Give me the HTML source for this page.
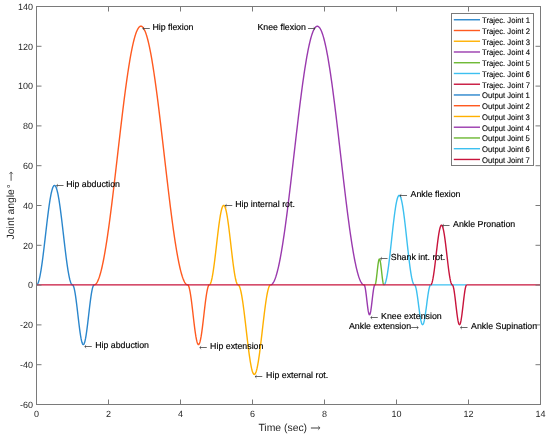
<!DOCTYPE html><html><head><meta charset="utf-8"><style>html,body{margin:0;padding:0;background:#fff;}svg{display:block;}text{text-rendering:geometricPrecision;}</style></head><body><svg width="550" height="437" viewBox="0 0 550 437">
<rect x="0" y="0" width="550" height="437" fill="#fff"/>
<path d="M36.50,284.90 L36.95,284.75 L37.40,284.29 L37.85,283.53 L38.30,282.47 L38.75,281.11 L39.20,279.48 L39.65,277.57 L40.10,275.40 L40.55,272.98 L41.00,270.33 L41.45,267.46 L41.90,264.39 L42.35,261.14 L42.80,257.74 L43.25,254.19 L43.70,250.52 L44.15,246.76 L44.60,242.93 L45.05,239.05 L45.50,235.15 L45.95,231.25 L46.40,227.37 L46.85,223.54 L47.30,219.78 L47.75,216.11 L48.20,212.56 L48.65,209.16 L49.10,205.91 L49.55,202.84 L50.00,199.97 L50.45,197.32 L50.90,194.90 L51.35,192.73 L51.80,190.82 L52.25,189.19 L52.70,187.83 L53.15,186.77 L53.60,186.01 L54.05,185.55 L54.50,185.40 L54.95,185.55 L55.40,186.01 L55.85,186.77 L56.30,187.83 L56.75,189.19 L57.20,190.82 L57.65,192.73 L58.10,194.90 L58.55,197.32 L59.00,199.97 L59.45,202.84 L59.90,205.91 L60.35,209.16 L60.80,212.56 L61.25,216.11 L61.70,219.78 L62.15,223.54 L62.60,227.37 L63.05,231.25 L63.50,235.15 L63.95,239.05 L64.40,242.93 L64.85,246.76 L65.30,250.52 L65.75,254.19 L66.20,257.74 L66.65,261.14 L67.10,264.39 L67.55,267.46 L68.00,270.33 L68.45,272.98 L68.90,275.40 L69.35,277.57 L69.80,279.48 L70.25,281.11 L70.70,282.47 L71.15,283.53 L71.60,284.29 L72.05,284.75 L72.50,284.90 L72.50,284.90 L72.95,285.16 L73.40,285.92 L73.85,287.17 L74.30,288.90 L74.75,291.07 L75.20,293.64 L75.65,296.58 L76.10,299.82 L76.55,303.33 L77.00,307.02 L77.45,310.85 L77.90,314.75 L78.35,318.65 L78.80,322.48 L79.25,326.17 L79.70,329.68 L80.15,332.92 L80.60,335.86 L81.05,338.43 L81.50,340.60 L81.95,342.33 L82.40,343.58 L82.85,344.34 L83.30,344.60 L83.75,344.34 L84.20,343.58 L84.65,342.33 L85.10,340.60 L85.55,338.43 L86.00,335.86 L86.45,332.92 L86.90,329.68 L87.35,326.17 L87.80,322.48 L88.25,318.65 L88.70,314.75 L89.15,310.85 L89.60,307.02 L90.05,303.33 L90.50,299.82 L90.95,296.58 L91.40,293.64 L91.85,291.07 L92.30,288.90 L92.75,287.17 L93.20,285.92 L93.65,285.16 L94.10,284.90" fill="none" stroke="#2a86cc" stroke-width="1.4" stroke-linejoin="round"/>
<path d="M94.10,284.90 L94.55,284.84 L95.00,284.66 L95.45,284.37 L95.90,283.96 L96.35,283.43 L96.80,282.78 L97.25,282.02 L97.70,281.14 L98.15,280.15 L98.60,279.04 L99.05,277.82 L99.50,276.49 L99.95,275.05 L100.40,273.50 L100.85,271.85 L101.30,270.08 L101.75,268.22 L102.20,266.25 L102.65,264.17 L103.10,262.00 L103.55,259.74 L104.00,257.37 L104.45,254.92 L104.90,252.37 L105.35,249.74 L105.80,247.01 L106.25,244.21 L106.70,241.32 L107.15,238.36 L107.60,235.32 L108.05,232.21 L108.50,229.03 L108.95,225.78 L109.40,222.47 L109.85,219.09 L110.30,215.66 L110.75,212.18 L111.20,208.64 L111.65,205.05 L112.10,201.42 L112.55,197.74 L113.00,194.03 L113.45,190.28 L113.90,186.51 L114.35,182.70 L114.80,178.87 L115.25,175.01 L115.70,171.14 L116.15,167.26 L116.60,163.36 L117.05,159.46 L117.50,155.55 L117.95,151.64 L118.40,147.74 L118.85,143.84 L119.30,139.96 L119.75,136.09 L120.20,132.23 L120.65,128.40 L121.10,124.59 L121.55,120.82 L122.00,117.07 L122.45,113.36 L122.90,109.68 L123.35,106.05 L123.80,102.46 L124.25,98.92 L124.70,95.44 L125.15,92.01 L125.60,88.63 L126.05,85.32 L126.50,82.07 L126.95,78.89 L127.40,75.78 L127.85,72.74 L128.30,69.78 L128.75,66.89 L129.20,64.09 L129.65,61.36 L130.10,58.73 L130.55,56.18 L131.00,53.73 L131.45,51.36 L131.90,49.10 L132.35,46.93 L132.80,44.85 L133.25,42.88 L133.70,41.02 L134.15,39.25 L134.60,37.60 L135.05,36.05 L135.50,34.61 L135.95,33.28 L136.40,32.06 L136.85,30.95 L137.30,29.96 L137.75,29.08 L138.20,28.32 L138.65,27.67 L139.10,27.14 L139.55,26.73 L140.00,26.44 L140.45,26.26 L140.90,26.20 L141.35,26.26 L141.80,26.44 L142.25,26.73 L142.70,27.14 L143.15,27.67 L143.60,28.32 L144.05,29.08 L144.50,29.96 L144.95,30.95 L145.40,32.06 L145.85,33.28 L146.30,34.61 L146.75,36.05 L147.20,37.60 L147.65,39.25 L148.10,41.02 L148.55,42.88 L149.00,44.85 L149.45,46.93 L149.90,49.10 L150.35,51.36 L150.80,53.73 L151.25,56.18 L151.70,58.73 L152.15,61.36 L152.60,64.09 L153.05,66.89 L153.50,69.78 L153.95,72.74 L154.40,75.78 L154.85,78.89 L155.30,82.07 L155.75,85.32 L156.20,88.63 L156.65,92.01 L157.10,95.44 L157.55,98.92 L158.00,102.46 L158.45,106.05 L158.90,109.68 L159.35,113.36 L159.80,117.07 L160.25,120.82 L160.70,124.59 L161.15,128.40 L161.60,132.23 L162.05,136.09 L162.50,139.96 L162.95,143.84 L163.40,147.74 L163.85,151.64 L164.30,155.55 L164.75,159.46 L165.20,163.36 L165.65,167.26 L166.10,171.14 L166.55,175.01 L167.00,178.87 L167.45,182.70 L167.90,186.51 L168.35,190.28 L168.80,194.03 L169.25,197.74 L169.70,201.42 L170.15,205.05 L170.60,208.64 L171.05,212.18 L171.50,215.66 L171.95,219.09 L172.40,222.47 L172.85,225.78 L173.30,229.03 L173.75,232.21 L174.20,235.32 L174.65,238.36 L175.10,241.32 L175.55,244.21 L176.00,247.01 L176.45,249.74 L176.90,252.37 L177.35,254.92 L177.80,257.37 L178.25,259.74 L178.70,262.00 L179.15,264.17 L179.60,266.25 L180.05,268.22 L180.50,270.08 L180.95,271.85 L181.40,273.50 L181.85,275.05 L182.30,276.49 L182.75,277.82 L183.20,279.04 L183.65,280.15 L184.10,281.14 L184.55,282.02 L185.00,282.78 L185.45,283.43 L185.90,283.96 L186.35,284.37 L186.80,284.66 L187.25,284.84 L187.70,284.90 L187.70,284.90 L188.16,285.17 L188.62,285.96 L189.08,287.27 L189.54,289.07 L190.00,291.32 L190.46,294.00 L190.92,297.04 L191.38,300.40 L191.84,304.02 L192.30,307.83 L192.76,311.76 L193.21,315.75 L193.67,319.71 L194.13,323.59 L194.59,327.31 L195.05,330.81 L195.51,334.02 L195.97,336.89 L196.43,339.36 L196.89,341.39 L197.35,342.95 L197.81,344.00 L198.27,344.53 L198.73,344.53 L199.19,344.00 L199.65,342.95 L200.11,341.39 L200.57,339.36 L201.03,336.89 L201.49,334.02 L201.95,330.81 L202.41,327.31 L202.87,323.59 L203.33,319.71 L203.79,315.75 L204.24,311.76 L204.70,307.83 L205.16,304.02 L205.62,300.40 L206.08,297.04 L206.54,294.00 L207.00,291.32 L207.46,289.07 L207.92,287.27 L208.38,285.96 L208.84,285.17 L209.30,284.90" fill="none" stroke="#ff5a20" stroke-width="1.4" stroke-linejoin="round"/>
<path d="M209.30,284.90 L209.76,284.70 L210.21,284.11 L210.67,283.13 L211.13,281.77 L211.59,280.05 L212.04,277.98 L212.50,275.59 L212.96,272.89 L213.41,269.91 L213.87,266.69 L214.33,263.26 L214.79,259.64 L215.24,255.88 L215.70,252.01 L216.16,248.07 L216.61,244.11 L217.07,240.15 L217.53,236.24 L217.99,232.42 L218.44,228.73 L218.90,225.20 L219.36,221.87 L219.81,218.76 L220.27,215.92 L220.73,213.37 L221.19,211.14 L221.64,209.24 L222.10,207.70 L222.56,206.53 L223.01,205.74 L223.47,205.35 L223.93,205.35 L224.39,205.74 L224.84,206.53 L225.30,207.70 L225.76,209.24 L226.21,211.14 L226.67,213.37 L227.13,215.92 L227.59,218.76 L228.04,221.87 L228.50,225.20 L228.96,228.73 L229.41,232.42 L229.87,236.24 L230.33,240.15 L230.79,244.11 L231.24,248.07 L231.70,252.01 L232.16,255.88 L232.61,259.64 L233.07,263.26 L233.53,266.69 L233.99,269.91 L234.44,272.89 L234.90,275.59 L235.36,277.98 L235.81,280.05 L236.27,281.77 L236.73,283.13 L237.19,284.11 L237.64,284.70 L238.10,284.90 L238.10,284.90 L238.55,285.07 L239.00,285.58 L239.45,286.43 L239.90,287.60 L240.35,289.10 L240.80,290.90 L241.25,293.00 L241.70,295.38 L242.15,298.01 L242.60,300.89 L243.05,303.99 L243.50,307.29 L243.95,310.75 L244.40,314.36 L244.85,318.09 L245.30,321.90 L245.75,325.77 L246.20,329.67 L246.65,333.58 L247.10,337.45 L247.55,341.26 L248.00,344.99 L248.45,348.60 L248.90,352.06 L249.35,355.36 L249.80,358.46 L250.25,361.34 L250.70,363.97 L251.15,366.35 L251.60,368.45 L252.05,370.25 L252.50,371.75 L252.95,372.92 L253.40,373.77 L253.85,374.28 L254.30,374.45 L254.75,374.28 L255.20,373.77 L255.65,372.92 L256.10,371.75 L256.55,370.25 L257.00,368.45 L257.45,366.35 L257.90,363.97 L258.35,361.34 L258.80,358.46 L259.25,355.36 L259.70,352.06 L260.15,348.60 L260.60,344.99 L261.05,341.26 L261.50,337.45 L261.95,333.58 L262.40,329.67 L262.85,325.77 L263.30,321.90 L263.75,318.09 L264.20,314.36 L264.65,310.75 L265.10,307.29 L265.55,303.99 L266.00,300.89 L266.45,298.01 L266.90,295.38 L267.35,293.00 L267.80,290.90 L268.25,289.10 L268.70,287.60 L269.15,286.43 L269.60,285.58 L270.05,285.07 L270.50,284.90" fill="none" stroke="#ffb000" stroke-width="1.4" stroke-linejoin="round"/>
<path d="M270.50,284.90 L270.95,284.84 L271.40,284.66 L271.86,284.36 L272.31,283.95 L272.76,283.41 L273.21,282.76 L273.67,281.99 L274.12,281.11 L274.57,280.10 L275.02,278.99 L275.47,277.76 L275.93,276.41 L276.38,274.96 L276.83,273.40 L277.28,271.72 L277.73,269.94 L278.19,268.06 L278.64,266.07 L279.09,263.98 L279.54,261.79 L280.00,259.50 L280.45,257.12 L280.90,254.64 L281.35,252.07 L281.80,249.41 L282.26,246.67 L282.71,243.84 L283.16,240.93 L283.61,237.94 L284.07,234.88 L284.52,231.74 L284.97,228.53 L285.42,225.26 L285.87,221.92 L286.33,218.52 L286.78,215.06 L287.23,211.55 L287.68,207.98 L288.13,204.37 L288.59,200.71 L289.04,197.01 L289.49,193.27 L289.94,189.50 L290.40,185.70 L290.85,181.87 L291.30,178.01 L291.75,174.14 L292.20,170.24 L292.66,166.33 L293.11,162.42 L293.56,158.49 L294.01,154.57 L294.47,150.64 L294.92,146.72 L295.37,142.81 L295.82,138.91 L296.27,135.02 L296.73,131.16 L297.18,127.31 L297.63,123.50 L298.08,119.71 L298.53,115.95 L298.99,112.23 L299.44,108.55 L299.89,104.92 L300.34,101.33 L300.80,97.79 L301.25,94.30 L301.70,90.88 L302.15,87.51 L302.60,84.20 L303.06,80.96 L303.51,77.78 L303.96,74.68 L304.41,71.66 L304.87,68.71 L305.32,65.84 L305.77,63.05 L306.22,60.35 L306.67,57.74 L307.13,55.21 L307.58,52.78 L308.03,50.44 L308.48,48.20 L308.93,46.06 L309.39,44.02 L309.84,42.09 L310.29,40.25 L310.74,38.53 L311.20,36.91 L311.65,35.40 L312.10,34.00 L312.55,32.71 L313.00,31.54 L313.46,30.48 L313.91,29.54 L314.36,28.71 L314.81,28.00 L315.27,27.40 L315.72,26.93 L316.17,26.57 L316.62,26.33 L317.07,26.21 L317.53,26.21 L317.98,26.33 L318.43,26.57 L318.88,26.93 L319.33,27.40 L319.79,28.00 L320.24,28.71 L320.69,29.54 L321.14,30.48 L321.60,31.54 L322.05,32.71 L322.50,34.00 L322.95,35.40 L323.40,36.91 L323.86,38.53 L324.31,40.25 L324.76,42.09 L325.21,44.02 L325.67,46.06 L326.12,48.20 L326.57,50.44 L327.02,52.78 L327.47,55.21 L327.93,57.74 L328.38,60.35 L328.83,63.05 L329.28,65.84 L329.73,68.71 L330.19,71.66 L330.64,74.68 L331.09,77.78 L331.54,80.96 L332.00,84.20 L332.45,87.51 L332.90,90.87 L333.35,94.30 L333.80,97.79 L334.26,101.33 L334.71,104.92 L335.16,108.55 L335.61,112.23 L336.07,115.95 L336.52,119.71 L336.97,123.50 L337.42,127.31 L337.87,131.16 L338.33,135.02 L338.78,138.91 L339.23,142.81 L339.68,146.72 L340.13,150.64 L340.59,154.57 L341.04,158.49 L341.49,162.42 L341.94,166.33 L342.40,170.24 L342.85,174.14 L343.30,178.01 L343.75,181.87 L344.20,185.70 L344.66,189.50 L345.11,193.27 L345.56,197.01 L346.01,200.71 L346.47,204.37 L346.92,207.98 L347.37,211.55 L347.82,215.06 L348.27,218.52 L348.73,221.92 L349.18,225.26 L349.63,228.53 L350.08,231.74 L350.53,234.88 L350.99,237.94 L351.44,240.93 L351.89,243.84 L352.34,246.67 L352.80,249.41 L353.25,252.07 L353.70,254.64 L354.15,257.12 L354.60,259.50 L355.06,261.79 L355.51,263.98 L355.96,266.07 L356.41,268.06 L356.87,269.94 L357.32,271.72 L357.77,273.40 L358.22,274.96 L358.67,276.41 L359.13,277.76 L359.58,278.99 L360.03,280.10 L360.48,281.11 L360.93,281.99 L361.39,282.76 L361.84,283.41 L362.29,283.95 L362.74,284.36 L363.20,284.66 L363.65,284.84 L364.10,284.90 L364.10,284.90 L364.37,285.08 L364.64,285.63 L364.91,286.53 L365.18,287.75 L365.45,289.27 L365.72,291.05 L365.99,293.05 L366.26,295.21 L366.53,297.49 L366.80,299.83 L367.07,302.16 L367.34,304.44 L367.61,306.60 L367.88,308.60 L368.15,310.38 L368.42,311.90 L368.69,313.12 L368.96,314.02 L369.23,314.57 L369.50,314.75 L369.77,314.57 L370.04,314.02 L370.31,313.12 L370.58,311.90 L370.85,310.38 L371.12,308.60 L371.39,306.60 L371.66,304.44 L371.93,302.16 L372.20,299.83 L372.47,297.49 L372.74,295.21 L373.01,293.05 L373.28,291.05 L373.55,289.27 L373.82,287.75 L374.09,286.53 L374.36,285.63 L374.63,285.08 L374.90,284.90" fill="none" stroke="#9a3aae" stroke-width="1.4" stroke-linejoin="round"/>
<path d="M374.90,284.90 L375.12,284.74 L375.35,284.27 L375.57,283.49 L375.80,282.43 L376.03,281.11 L376.25,279.57 L376.47,277.84 L376.70,275.96 L376.93,273.99 L377.15,271.97 L377.38,269.94 L377.60,267.97 L377.82,266.09 L378.05,264.36 L378.28,262.82 L378.50,261.50 L378.72,260.44 L378.95,259.66 L379.18,259.19 L379.40,259.03 L379.62,259.19 L379.85,259.66 L380.07,260.44 L380.30,261.50 L380.53,262.82 L380.75,264.36 L380.97,266.09 L381.20,267.97 L381.43,269.94 L381.65,271.97 L381.88,273.99 L382.10,275.96 L382.32,277.84 L382.55,279.57 L382.78,281.11 L383.00,282.43 L383.22,283.49 L383.45,284.27 L383.68,284.74 L383.90,284.90" fill="none" stroke="#6cb832" stroke-width="1.4" stroke-linejoin="round"/>
<path d="M383.90,284.90 L384.36,284.70 L384.81,284.11 L385.27,283.14 L385.73,281.79 L386.18,280.07 L386.64,278.00 L387.10,275.59 L387.55,272.88 L388.01,269.88 L388.47,266.61 L388.92,263.12 L389.38,259.42 L389.84,255.55 L390.29,251.54 L390.75,247.44 L391.21,243.27 L391.66,239.08 L392.12,234.89 L392.58,230.75 L393.03,226.69 L393.49,222.75 L393.95,218.96 L394.40,215.36 L394.86,211.97 L395.32,208.84 L395.77,205.98 L396.23,203.41 L396.69,201.17 L397.14,199.28 L397.60,197.74 L398.06,196.57 L398.51,195.79 L398.97,195.40 L399.43,195.40 L399.89,195.79 L400.34,196.57 L400.80,197.74 L401.26,199.28 L401.71,201.17 L402.17,203.41 L402.63,205.98 L403.08,208.84 L403.54,211.97 L404.00,215.36 L404.45,218.96 L404.91,222.75 L405.37,226.69 L405.82,230.75 L406.28,234.89 L406.74,239.08 L407.19,243.27 L407.65,247.44 L408.11,251.54 L408.56,255.55 L409.02,259.42 L409.48,263.12 L409.93,266.61 L410.39,269.88 L410.85,272.88 L411.30,275.59 L411.76,278.00 L412.22,280.07 L412.67,281.79 L413.13,283.14 L413.59,284.11 L414.04,284.70 L414.50,284.90 L414.50,284.90 L414.91,285.15 L415.31,285.87 L415.71,287.07 L416.12,288.70 L416.53,290.73 L416.93,293.10 L417.33,295.77 L417.74,298.65 L418.14,301.69 L418.55,304.80 L418.95,307.91 L419.36,310.95 L419.76,313.83 L420.17,316.50 L420.57,318.87 L420.98,320.90 L421.39,322.53 L421.79,323.73 L422.19,324.45 L422.60,324.70 L423.00,324.45 L423.41,323.73 L423.81,322.53 L424.22,320.90 L424.62,318.87 L425.03,316.50 L425.43,313.83 L425.84,310.95 L426.25,307.91 L426.65,304.80 L427.05,301.69 L427.46,298.65 L427.86,295.77 L428.27,293.10 L428.68,290.73 L429.08,288.70 L429.49,287.07 L429.89,285.87 L430.29,285.15 L430.70,284.90" fill="none" stroke="#3cc0f0" stroke-width="1.4" stroke-linejoin="round"/>
<path d="M36.50,284.90 H430.70 M466.70,284.90 H540.50" stroke="#c8143c" stroke-width="1.4" fill="none"/>
<path d="M430.70,284.90 H466.70" stroke="#3cc0f0" stroke-width="1.4" fill="none"/>
<path d="M430.70,284.90 L431.15,284.64 L431.60,283.88 L432.05,282.63 L432.50,280.90 L432.95,278.73 L433.40,276.16 L433.85,273.22 L434.30,269.98 L434.75,266.47 L435.20,262.78 L435.65,258.95 L436.10,255.05 L436.55,251.15 L437.00,247.32 L437.45,243.63 L437.90,240.12 L438.35,236.88 L438.80,233.94 L439.25,231.37 L439.70,229.20 L440.15,227.47 L440.60,226.22 L441.05,225.46 L441.50,225.20 L441.95,225.46 L442.40,226.22 L442.85,227.47 L443.30,229.20 L443.75,231.37 L444.20,233.94 L444.65,236.88 L445.10,240.12 L445.55,243.63 L446.00,247.32 L446.45,251.15 L446.90,255.05 L447.35,258.95 L447.80,262.78 L448.25,266.47 L448.70,269.98 L449.15,273.22 L449.60,276.16 L450.05,278.73 L450.50,280.90 L450.95,282.63 L451.40,283.88 L451.85,284.64 L452.30,284.90 L452.30,284.90 L452.66,285.15 L453.02,285.87 L453.38,287.07 L453.74,288.70 L454.10,290.73 L454.46,293.10 L454.82,295.77 L455.18,298.65 L455.54,301.69 L455.90,304.80 L456.26,307.91 L456.62,310.95 L456.98,313.83 L457.34,316.50 L457.70,318.87 L458.06,320.90 L458.42,322.53 L458.78,323.73 L459.14,324.45 L459.50,324.70 L459.86,324.45 L460.22,323.73 L460.58,322.53 L460.94,320.90 L461.30,318.87 L461.66,316.50 L462.02,313.83 L462.38,310.95 L462.74,307.91 L463.10,304.80 L463.46,301.69 L463.82,298.65 L464.18,295.77 L464.54,293.10 L464.90,290.73 L465.26,288.70 L465.62,287.07 L465.98,285.87 L466.34,285.15 L466.70,284.90" fill="none" stroke="#c8143c" stroke-width="1.4" stroke-linejoin="round"/>
<path d="M36.50,404.5 V399.5 M36.50,6.5 V11.5 M108.50,404.5 V399.5 M108.50,6.5 V11.5 M180.50,404.5 V399.5 M180.50,6.5 V11.5 M252.50,404.5 V399.5 M252.50,6.5 V11.5 M324.50,404.5 V399.5 M324.50,6.5 V11.5 M396.50,404.5 V399.5 M396.50,6.5 V11.5 M468.50,404.5 V399.5 M468.50,6.5 V11.5 M540.50,404.5 V399.5 M540.50,6.5 V11.5 M36.5,404.50 H41.5 M540.5,404.50 H535.5 M36.5,364.70 H41.5 M540.5,364.70 H535.5 M36.5,324.90 H41.5 M540.5,324.90 H535.5 M36.5,285.10 H41.5 M540.5,285.10 H535.5 M36.5,245.30 H41.5 M540.5,245.30 H535.5 M36.5,205.50 H41.5 M540.5,205.50 H535.5 M36.5,165.70 H41.5 M540.5,165.70 H535.5 M36.5,125.90 H41.5 M540.5,125.90 H535.5 M36.5,86.10 H41.5 M540.5,86.10 H535.5 M36.5,46.30 H41.5 M540.5,46.30 H535.5 M36.5,6.50 H41.5 M540.5,6.50 H535.5" stroke="#7a7a7a" stroke-width="1" fill="none"/>
<rect x="36.5" y="6.5" width="504.0" height="398.0" fill="none" stroke="#7a7a7a" stroke-width="1"/>
<g font-family="'Liberation Sans', Arial, sans-serif" font-size="9.0" fill="#262626"><text x="36.50" y="417" text-anchor="middle">0</text><text x="108.50" y="417" text-anchor="middle">2</text><text x="180.50" y="417" text-anchor="middle">4</text><text x="252.50" y="417" text-anchor="middle">6</text><text x="324.50" y="417" text-anchor="middle">8</text><text x="396.50" y="417" text-anchor="middle">10</text><text x="468.50" y="417" text-anchor="middle">12</text><text x="540.50" y="417" text-anchor="middle">14</text><text x="33.0" y="407.70" text-anchor="end">-60</text><text x="33.0" y="367.90" text-anchor="end">-40</text><text x="33.0" y="328.10" text-anchor="end">-20</text><text x="33.0" y="288.30" text-anchor="end">0</text><text x="33.0" y="248.50" text-anchor="end">20</text><text x="33.0" y="208.70" text-anchor="end">40</text><text x="33.0" y="168.90" text-anchor="end">60</text><text x="33.0" y="129.10" text-anchor="end">80</text><text x="33.0" y="89.30" text-anchor="end">100</text><text x="33.0" y="49.50" text-anchor="end">120</text><text x="33.0" y="9.70" text-anchor="end">140</text></g>
<text x="258.4" y="430.8" font-family="'Liberation Sans', Arial, sans-serif" font-size="10.4" fill="#262626">Time (sec) <tspan font-family="'DejaVu Math TeX Gyre', 'DejaVu Sans', sans-serif" font-size="11.2" fill="#444">→</tspan></text>
<text transform="translate(14.1,239.4) rotate(-90)" x="0" y="0" font-family="'Liberation Sans', Arial, sans-serif" font-size="10.4" fill="#262626">Joint angle<tspan dx="0.8" font-size="9.88">°</tspan> <tspan font-family="'DejaVu Math TeX Gyre', 'DejaVu Sans', sans-serif" font-size="10.6" fill="#444">→</tspan></text>
<g font-family="'Liberation Sans', Arial, sans-serif" font-size="8.8" fill="#000" stroke="#000" stroke-width="0.15"><text x="66.20" y="187.00">Hip abduction</text><text x="55.50" y="188.00" font-family="'DejaVu Math TeX Gyre', 'DejaVu Sans', sans-serif" fill="#383838" stroke="none">←</text><text x="95.20" y="348.00">Hip abduction</text><text x="83.80" y="349.00" font-family="'DejaVu Math TeX Gyre', 'DejaVu Sans', sans-serif" fill="#383838" stroke="none">←</text><text x="152.40" y="29.60">Hip flexion</text><text x="141.80" y="30.60" font-family="'DejaVu Math TeX Gyre', 'DejaVu Sans', sans-serif" fill="#383838" stroke="none">←</text><text x="210.10" y="349.00">Hip extension</text><text x="198.70" y="350.00" font-family="'DejaVu Math TeX Gyre', 'DejaVu Sans', sans-serif" fill="#383838" stroke="none">←</text><text x="235.20" y="207.00">Hip internal rot.</text><text x="224.20" y="208.00" font-family="'DejaVu Math TeX Gyre', 'DejaVu Sans', sans-serif" fill="#383838" stroke="none">←</text><text x="266.10" y="378.00">Hip external rot.</text><text x="254.20" y="379.00" font-family="'DejaVu Math TeX Gyre', 'DejaVu Sans', sans-serif" fill="#383838" stroke="none">←</text><text x="257.46" y="30.00">Knee flexion</text><text x="307.30" y="31.00" font-family="'DejaVu Math TeX Gyre', 'DejaVu Sans', sans-serif" fill="#383838" stroke="none">→</text><text x="381.06" y="319.00">Knee extension</text><text x="369.80" y="320.00" font-family="'DejaVu Math TeX Gyre', 'DejaVu Sans', sans-serif" fill="#383838" stroke="none">←</text><text x="390.86" y="260.00">Shank int. rot.</text><text x="379.60" y="261.00" font-family="'DejaVu Math TeX Gyre', 'DejaVu Sans', sans-serif" fill="#383838" stroke="none">←</text><text x="410.60" y="197.00">Ankle flexion</text><text x="399.10" y="198.00" font-family="'DejaVu Math TeX Gyre', 'DejaVu Sans', sans-serif" fill="#383838" stroke="none">←</text><text x="349.00" y="329.00">Ankle extension</text><text x="410.60" y="330.00" font-family="'DejaVu Math TeX Gyre', 'DejaVu Sans', sans-serif" fill="#383838" stroke="none">→</text><text x="453.10" y="227.00">Ankle Pronation</text><text x="441.40" y="228.00" font-family="'DejaVu Math TeX Gyre', 'DejaVu Sans', sans-serif" fill="#383838" stroke="none">←</text><text x="471.10" y="329.00">Ankle Supination</text><text x="459.60" y="330.00" font-family="'DejaVu Math TeX Gyre', 'DejaVu Sans', sans-serif" fill="#383838" stroke="none">←</text></g>
<rect x="451.5" y="13.5" width="82.0" height="152.0" fill="#fff" stroke="#7a7a7a" stroke-width="1"/>
<g font-family="'Liberation Sans', Arial, sans-serif" font-size="8.1" fill="#000" stroke="#000" stroke-width="0.12"><path d="M453.8,19.75 H480" stroke="#2a86cc" stroke-width="1.4"/><text transform="translate(482.0,23.10) scale(0.9506172839506174,1)">Trajec. Joint 1</text><path d="M453.8,30.50 H480" stroke="#ff5a20" stroke-width="1.4"/><text transform="translate(482.0,33.85) scale(0.9506172839506174,1)">Trajec. Joint 2</text><path d="M453.8,41.24 H480" stroke="#ffb000" stroke-width="1.4"/><text transform="translate(482.0,44.59) scale(0.9506172839506174,1)">Trajec. Joint 3</text><path d="M453.8,51.99 H480" stroke="#9a3aae" stroke-width="1.4"/><text transform="translate(482.0,55.34) scale(0.9506172839506174,1)">Trajec. Joint 4</text><path d="M453.8,62.73 H480" stroke="#6cb832" stroke-width="1.4"/><text transform="translate(482.0,66.08) scale(0.9506172839506174,1)">Trajec. Joint 5</text><path d="M453.8,73.48 H480" stroke="#3cc0f0" stroke-width="1.4"/><text transform="translate(482.0,76.83) scale(0.9506172839506174,1)">Trajec. Joint 6</text><path d="M453.8,84.23 H480" stroke="#c8143c" stroke-width="1.4"/><text transform="translate(482.0,87.58) scale(0.9506172839506174,1)">Trajec. Joint 7</text><path d="M453.8,94.97 H480" stroke="#2a86cc" stroke-width="1.4"/><text transform="translate(482.0,98.32) scale(0.9506172839506174,1)">Output Joint 1</text><path d="M453.8,105.72 H480" stroke="#ff5a20" stroke-width="1.4"/><text transform="translate(482.0,109.07) scale(0.9506172839506174,1)">Output Joint 2</text><path d="M453.8,116.46 H480" stroke="#ffb000" stroke-width="1.4"/><text transform="translate(482.0,119.81) scale(0.9506172839506174,1)">Output Joint 3</text><path d="M453.8,127.21 H480" stroke="#9a3aae" stroke-width="1.4"/><text transform="translate(482.0,130.56) scale(0.9506172839506174,1)">Output Joint 4</text><path d="M453.8,137.96 H480" stroke="#6cb832" stroke-width="1.4"/><text transform="translate(482.0,141.31) scale(0.9506172839506174,1)">Output Joint 5</text><path d="M453.8,148.70 H480" stroke="#3cc0f0" stroke-width="1.4"/><text transform="translate(482.0,152.05) scale(0.9506172839506174,1)">Output Joint 6</text><path d="M453.8,159.45 H480" stroke="#c8143c" stroke-width="1.4"/><text transform="translate(482.0,162.80) scale(0.9506172839506174,1)">Output Joint 7</text></g>
</svg></body></html>
